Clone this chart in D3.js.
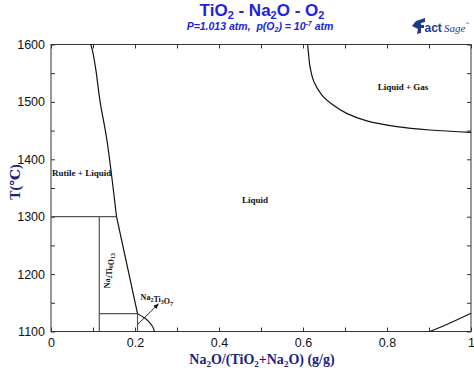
<!DOCTYPE html>
<html>
<head>
<meta charset="utf-8">
<script src="https://cdn.jsdelivr.net/npm/d3@7"></script>
<style>
  body { margin: 0; background: #fff; }
  svg { display: block; }
</style>
</head>
<body>
<div id="chart"></div>
<script>
// axis ticks
const xTicks = [0, 0.2, 0.4, 0.6, 0.8, 1];
const yTicks = [1100, 1200, 1300, 1400, 1500, 1600];

// phase boundaries, [x (g/g), T (C)]
const rutileLiquidus = [[0.095, 1600], [0.100, 1585], [0.107, 1555], [0.117, 1500], [0.133, 1434], [0.156, 1300]];
const na2ti6o13Liquidus = [[0.156, 1300], [0.206, 1131]];
const na2ti3o7Arc = [[0.206, 1131], [0.224, 1123], [0.236, 1114.6], [0.2436, 1106], [0.246, 1100]];
const gasBoundary = [[0.611, 1600], [0.613, 1585], [0.617, 1560], [0.626, 1535], [0.645, 1512], [0.671, 1495],
                     [0.704, 1480], [0.752, 1467], [0.823, 1457], [0.902, 1451], [1.0, 1447]];
const naRichLine = [[0.902, 1100], [0.95, 1115], [1.0, 1132]];
const eutectoid1300 = [[0, 1300], [0.156, 1300]];
const na2ti6o13Line = [[0.115, 1300], [0.115, 1100]];
const peritectic1131 = [[0.115, 1131], [0.206, 1131]];
const na2ti3o7Line = [[0.206, 1131], [0.206, 1100]];
const arrowLine = [[0.206, 1112], [0.2556, 1148]];

const regionLabels = [
  { text: "Rutile + Liquid", x: 0.073, y: 1376 },
  { text: "Liquid", x: 0.486, y: 1329 },
  { text: "Liquid + Gas", x: 0.838, y: 1526 }
];

const W = 474, H = 370;
const margin = { left: 51, top: 44.5, right: 3, bottom: 38.5 };
const width = W - margin.left - margin.right;
const height = H - margin.top - margin.bottom;

const svg = d3.select("#chart").append("svg")
  .attr("width", W)
  .attr("height", H);

const g = svg.append("g")
  .attr("transform", "translate(" + margin.left + "," + margin.top + ")");

const x = d3.scaleLinear().domain([0, 1]).range([0, width]);
const y = d3.scaleLinear().domain([1100, 1600]).range([height, 0]);

// frame
g.append("rect")
  .attr("width", width).attr("height", height)
  .attr("fill", "none").attr("stroke", "#333").attr("stroke-width", 1);

// axes with inward ticks
function styleAxis(sel) {
  sel.select(".domain").remove();
  sel.selectAll(".tick line").attr("stroke", "#333");
  sel.selectAll(".tick text").attr("fill", "#111")
    .style("font-family", "Arial, 'Liberation Sans', sans-serif").style("font-size", "12.5px");
}

const xMinor = d3.range(0, 1.0001, 0.1);
const yMinor = d3.range(1100, 1601, 50);

g.append("g").attr("transform", "translate(0," + height + ")")
  .call(d3.axisBottom(x).tickValues(xMinor).tickSize(-4).tickFormat(""))
  .call(styleAxis);
g.append("g").attr("transform", "translate(0," + height + ")")
  .call(d3.axisBottom(x).tickValues(xTicks).tickSize(0).tickPadding(7).tickFormat(d3.format("")))
  .call(styleAxis);
g.append("g")
  .call(d3.axisTop(x).tickValues(xMinor).tickSize(-4).tickFormat(""))
  .call(styleAxis);
g.append("g")
  .call(d3.axisLeft(y).tickValues(yMinor).tickSize(-4).tickFormat(""))
  .call(styleAxis);
g.append("g")
  .call(d3.axisLeft(y).tickValues(yTicks).tickSize(0).tickPadding(6).tickFormat(d3.format("")))
  .call(styleAxis);
g.append("g").attr("transform", "translate(" + width + ",0)")
  .call(d3.axisRight(y).tickValues(yMinor).tickSize(-4).tickFormat(""))
  .call(styleAxis);

// boundaries
const line = d3.line().x(d => x(d[0])).y(d => y(d[1]));
const smooth = d3.line().x(d => x(d[0])).y(d => y(d[1])).curve(d3.curveCatmullRom.alpha(0.5));

[eutectoid1300, na2ti6o13Line, peritectic1131, na2ti3o7Line].forEach(d => {
  g.append("path").attr("d", line(d)).attr("fill", "none")
    .attr("stroke", "#555").attr("stroke-width", 1.2);
});

g.append("path").attr("d", smooth(rutileLiquidus)).attr("fill", "none").attr("stroke", "#111").attr("stroke-width", 1.2);
g.append("path").attr("d", line(na2ti6o13Liquidus)).attr("fill", "none").attr("stroke", "#111").attr("stroke-width", 1.2);
g.append("path").attr("d", smooth(na2ti3o7Arc)).attr("fill", "none").attr("stroke", "#111").attr("stroke-width", 1.1);
g.append("path").attr("d", smooth(gasBoundary)).attr("fill", "none").attr("stroke", "#111").attr("stroke-width", 1.2);
g.append("path").attr("d", smooth(naRichLine)).attr("fill", "none").attr("stroke", "#111").attr("stroke-width", 1.1);

// arrow to Na2Ti3O7 label
svg.append("defs").append("marker")
  .attr("id", "arrow").attr("viewBox", "0 0 10 10")
  .attr("refX", 9).attr("refY", 5)
  .attr("markerWidth", 6).attr("markerHeight", 6)
  .attr("orient", "auto")
  .append("path").attr("d", "M0,1 L10,5 L0,9 z").attr("fill", "#111");
g.append("path").attr("d", line(arrowLine)).attr("stroke", "#111").attr("stroke-width", 0.9)
  .attr("marker-end", "url(#arrow)");

// region labels
const serif = "'Liberation Serif', 'DejaVu Serif', serif";
regionLabels.forEach(l => {
  g.append("text")
    .attr("x", x(l.x)).attr("y", y(l.y))
    .attr("text-anchor", "middle").attr("dy", "0.35em")
    .style("font-family", serif).style("font-size", "9px").style("font-weight", "bold")
    .attr("fill", "#111").text(l.text);
});

// compound labels with subscripts
function compound(sel, parts) {
  parts.forEach(p => {
    sel.append("tspan").text(p[0]);
    sel.append("tspan").attr("font-size", "6px").attr("dy", "2").text(p[1]);
    sel.append("tspan").attr("dy", "-2").text("");
  });
}
const lab613 = g.append("text")
  .attr("transform", "translate(" + x(0.1326) + "," + y(1206) + ") rotate(-90)")
  .attr("text-anchor", "middle").attr("dy", "0.35em")
  .style("font-family", serif).style("font-size", "8px").style("font-weight", "bold").attr("fill", "#111");
compound(lab613, [["Na", "2"], ["Ti", "6"], ["O", "13"]]);

const lab37 = g.append("text")
  .attr("x", x(0.252)).attr("y", y(1160)).attr("text-anchor", "middle").attr("dy", "0.35em")
  .style("font-family", serif).style("font-size", "8px").style("font-weight", "bold").attr("fill", "#111");
compound(lab37, [["Na", "2"], ["Ti", "3"], ["O", "7"]]);

// titles
const title = svg.append("text")
  .attr("x", 262).attr("y", 16).attr("text-anchor", "middle")
  .style("font-family", "Arial, 'Liberation Sans', sans-serif").style("font-size", "17px").style("font-weight", "bold")
  .attr("fill", "#2323d8");
title.append("tspan").text("TiO");
title.append("tspan").attr("font-size", "11px").attr("dy", 3).text("2");
title.append("tspan").attr("dy", -3).text(" - Na");
title.append("tspan").attr("font-size", "11px").attr("dy", 3).text("2");
title.append("tspan").attr("dy", -3).text("O - O");
title.append("tspan").attr("font-size", "11px").attr("dy", 3).text("2");

const sub = svg.append("text")
  .attr("x", 260).attr("y", 30).attr("text-anchor", "middle")
  .style("font-family", "Arial, 'Liberation Sans', sans-serif").style("font-size", "10.5px")
  .style("font-weight", "bold").style("font-style", "italic")
  .attr("fill", "#2323d8").attr("xml:space", "preserve");
sub.append("tspan").text("P=1.013 atm,  p(O");
sub.append("tspan").attr("font-size", "7px").attr("dy", 2).text("2");
sub.append("tspan").attr("dy", -2).text(") = 10");
sub.append("tspan").attr("font-size", "7px").attr("dy", -4).text("-7");
sub.append("tspan").attr("dy", 4).text(" atm");

// FactSage logo
const logo = svg.append("g").attr("transform", "translate(412,18)");
logo.append("path")
  .attr("d", "M4,3 L13,0 L13,4 L9,5 L9,7 L12,7 L12,10 L9,10 L9,15 L5,16 L6,11 L0,8 Z")
  .attr("fill", "#1f3a8a");
logo.append("text").attr("x", 12.5).attr("y", 14)
  .style("font-family", "Arial, 'Liberation Sans', sans-serif").style("font-size", "12px")
  .style("font-weight", "bold").attr("fill", "#1f3a8a").text("act");
logo.append("text").attr("x", 32).attr("y", 14)
  .style("font-family", "'Liberation Serif', serif").style("font-size", "11px")
  .style("font-style", "italic").attr("fill", "#1f3a8a").text("Sage");
logo.append("text").attr("x", 53).attr("y", 7)
  .style("font-family", "Arial, sans-serif").style("font-size", "4px").attr("fill", "#1f3a8a").text("™");

// axis titles
const xt = svg.append("text")
  .attr("x", 262).attr("y", 364).attr("text-anchor", "middle")
  .style("font-family", serif).style("font-size", "14px").style("font-weight", "bold")
  .attr("fill", "#1c237e");
xt.append("tspan").text("Na");
xt.append("tspan").attr("font-size", "9px").attr("dy", 3).text("2");
xt.append("tspan").attr("dy", -3).text("O/(TiO");
xt.append("tspan").attr("font-size", "9px").attr("dy", 3).text("2");
xt.append("tspan").attr("dy", -3).text("+Na");
xt.append("tspan").attr("font-size", "9px").attr("dy", 3).text("2");
xt.append("tspan").attr("dy", -3).text("O) (g/g)");

svg.append("text")
  .attr("transform", "translate(20,182) rotate(-90)")
  .attr("text-anchor", "middle")
  .style("font-family", serif).style("font-size", "14px").style("font-weight", "bold")
  .attr("fill", "#1c237e").text("T(℃)");
</script>
</body>
</html>
